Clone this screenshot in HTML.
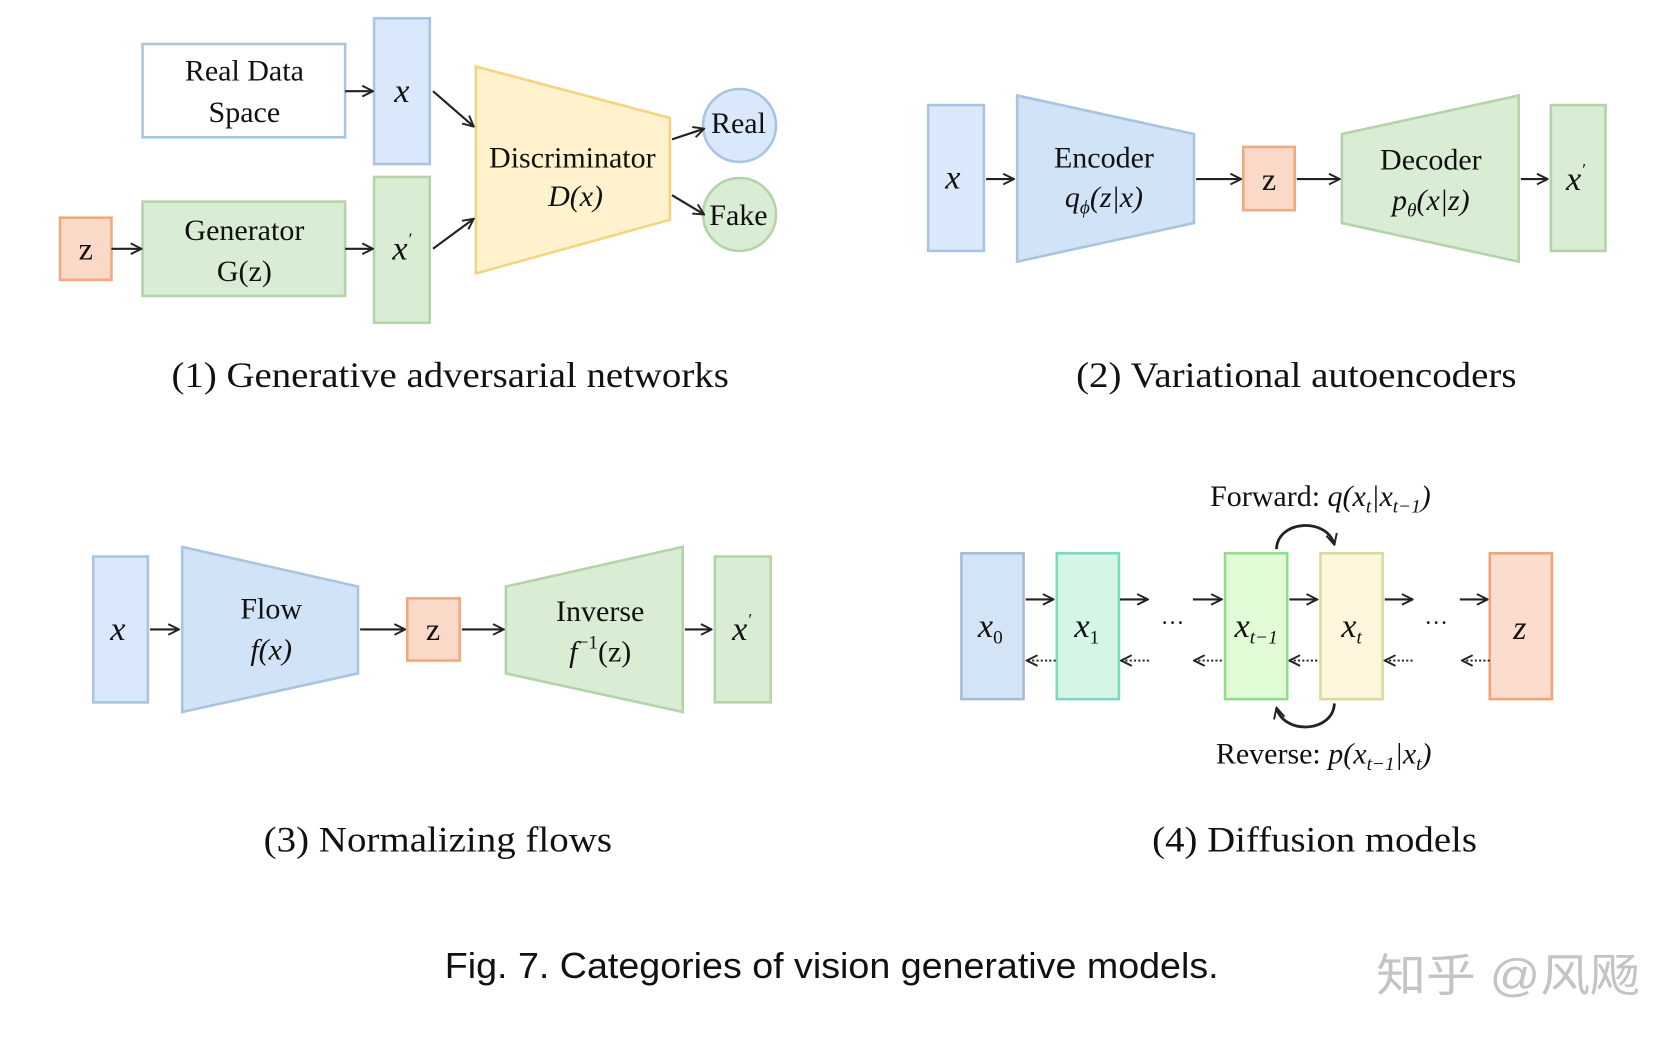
<!DOCTYPE html>
<html><head><meta charset="utf-8"><style>
html,body{margin:0;padding:0;background:#fff;}
svg{display:block;}
text{font-family:"Liberation Serif",serif;fill:#111;}
.i{font-style:italic;}
</style></head><body>
<svg width="1672" height="1038" viewBox="0 0 1560 968" preserveAspectRatio="none" xmlns="http://www.w3.org/2000/svg">
<defs>
<marker id="a" viewBox="0 0 12 12" refX="11" refY="6" markerWidth="12" markerHeight="12" markerUnits="userSpaceOnUse" orient="auto">
<path d="M1,1 L11,6 L1,11" fill="none" stroke="#222" stroke-width="1.8"/>
</marker>
</defs>
<rect width="1560" height="968" fill="#fff"/>
<g stroke-width="2.4">
<rect x="133" y="41" width="189" height="87" fill="#fff" stroke="#a9c4e0"/>
<rect x="349" y="17" width="52" height="136" fill="#dae8fc" stroke="#a9c4e0"/>
<rect x="349" y="165" width="52" height="136" fill="#d9ecd4" stroke="#b5d3a8"/>
<rect x="56" y="203" width="48" height="58" fill="#fad9c8" stroke="#f0a97f"/>
<rect x="133" y="188" width="189" height="88" fill="#d9ecd4" stroke="#b5d3a8"/>
<polygon points="444,62 625,110 625,205 444,255" fill="#fff2cc" stroke="#f5d47f"/>
<circle cx="690" cy="117" r="34" fill="#dae8fc" stroke="#a9c4e0"/>
<circle cx="690" cy="200" r="34" fill="#d9ecd4" stroke="#b5d3a8"/>
<rect x="866" y="98" width="52" height="136" fill="#dae8fc" stroke="#a9c4e0"/>
<polygon points="949,89 1114,125 1114,208 949,244" fill="#d0e3f7" stroke="#a9c4e0"/>
<rect x="1160" y="137" width="48" height="59" fill="#fad9c8" stroke="#f0a97f"/>
<polygon points="1252,125 1417,89 1417,244 1252,208" fill="#d9ecd4" stroke="#b5d3a8"/>
<rect x="1447" y="98" width="51" height="136" fill="#d9ecd4" stroke="#b5d3a8"/>
<rect x="87" y="519" width="51" height="136" fill="#dae8fc" stroke="#a9c4e0"/>
<polygon points="170,510 334,547 334,628 170,664" fill="#d0e3f7" stroke="#a9c4e0"/>
<rect x="380" y="558" width="49" height="58" fill="#fad9c8" stroke="#f0a97f"/>
<polygon points="472,547 637,510 637,664 472,628" fill="#d9ecd4" stroke="#b5d3a8"/>
<rect x="667" y="519" width="52" height="136" fill="#d9ecd4" stroke="#b5d3a8"/>
<rect x="897" y="516" width="58" height="136" fill="#d3e4f7" stroke="#a6bcd6"/>
<rect x="986" y="516" width="58" height="136" fill="#d5f5e6" stroke="#7dd9c0"/>
<rect x="1143" y="516" width="58" height="136" fill="#e2fbd7" stroke="#93dd8a"/>
<rect x="1232" y="516" width="58" height="136" fill="#fdf6dd" stroke="#d7dc9a"/>
<rect x="1390" y="516" width="58" height="136" fill="#fcdccc" stroke="#f0a47a"/>
</g>
<g stroke="#222" stroke-width="2" fill="none" marker-end="url(#a)">
<path d="M322,85 H348"/><path d="M404,85 L442,118"/><path d="M404,232 L442,204"/>
<path d="M104,232 H132"/><path d="M322,232 H348"/>
<path d="M627,130 L657,120"/><path d="M627,182 L657,200"/>
<path d="M920,167 H946"/><path d="M1116,167 H1158"/><path d="M1210,167 H1250"/><path d="M1419,167 H1444"/>
<path d="M140,587 H167"/><path d="M336,587 H378"/><path d="M431,587 H470"/><path d="M639,587 H664"/>
<path d="M957,559 H983"/><path d="M1045,559 H1071"/><path d="M1113,559 H1140"/><path d="M1203,559 H1229"/><path d="M1292,559 H1318"/><path d="M1362,559 H1388"/>
</g>
<g stroke="#222" stroke-width="1.8" fill="none" stroke-dasharray="2,2" marker-end="url(#a)">
<path d="M985,616 H958"/><path d="M1072,616 H1046"/><path d="M1140,616 H1114"/><path d="M1229,616 H1203"/><path d="M1318,616 H1292"/><path d="M1390,616 H1364"/>
</g>
<g stroke="#222" stroke-width="2.6" fill="none" marker-end="url(#a)">
<path d="M1191,512 C1192,485 1238,482 1245,508"/>
<path d="M1245,656 C1244,683 1198,686 1191,660"/>
</g>
<g font-size="28" text-anchor="middle">
<text x="228" y="75">Real Data</text><text x="228" y="114">Space</text>
<text x="375" y="95" class="i" font-size="32">x</text>
<text x="375" y="242" class="i" font-size="32">x<tspan font-size="16" dy="-14">′</tspan></text>
<text x="80" y="242" font-size="30">z</text>
<text x="228" y="224">Generator</text><text x="228" y="262">G(z)</text>
<text x="534" y="156">Discriminator</text><text x="537" y="192" class="i">D(x)</text>
<text x="689" y="124">Real</text><text x="689" y="210">Fake</text>
<text x="889" y="176" class="i" font-size="32">x</text>
<text x="1030" y="156">Encoder</text>
<text x="1030" y="193" class="i">q<tspan font-size="18" dy="6">ϕ</tspan><tspan dy="-6">(z|x)</tspan></text>
<text x="1184" y="177" font-size="30">z</text>
<text x="1335" y="158">Decoder</text>
<text x="1335" y="196" class="i">p<tspan font-size="18" dy="6">θ</tspan><tspan dy="-6">(x|z)</tspan></text>
<text x="1470" y="177" class="i" font-size="32">x<tspan font-size="16" dy="-14">′</tspan></text>
<text x="110" y="597" class="i" font-size="32">x</text>
<text x="253" y="577">Flow</text><text x="253" y="615" class="i">f(x)</text>
<text x="404" y="597" font-size="30">z</text>
<text x="560" y="579">Inverse</text>
<text x="560" y="617"><tspan class="i">f</tspan><tspan font-size="18" dy="-12">−1</tspan><tspan dy="12">(z)</tspan></text>
<text x="692" y="597" class="i" font-size="32">x<tspan font-size="16" dy="-14">′</tspan></text>
<text x="924" y="594" class="i" font-size="32">x<tspan font-size="18" dy="6" font-style="normal">0</tspan></text>
<text x="1014" y="594" class="i" font-size="32">x<tspan font-size="18" dy="6" font-style="normal">1</tspan></text>
<text x="1172" y="594" class="i" font-size="32">x<tspan font-size="18" dy="6">t−1</tspan></text>
<text x="1261" y="594" class="i" font-size="32">x<tspan font-size="18" dy="6">t</tspan></text>
<text x="1418" y="596" class="i" font-size="32">z</text>
<text x="1094" y="588" font-size="22">···</text>
<text x="1340" y="588" font-size="22">···</text>
<text x="1232" y="472">Forward: <tspan class="i">q(x<tspan font-size="18" dy="6">t</tspan><tspan dy="-6">|x</tspan><tspan font-size="18" dy="6">t−1</tspan><tspan dy="-6">)</tspan></tspan></text>
<text x="1235" y="712">Reverse: <tspan class="i">p(x<tspan font-size="18" dy="6">t−1</tspan><tspan dy="-6">|x</tspan><tspan font-size="18" dy="6">t</tspan><tspan dy="-6">)</tspan></tspan></text>
</g>
<g font-size="34">
<text x="160" y="361" textLength="520" lengthAdjust="spacingAndGlyphs">(1) Generative adversarial networks</text>
<text x="1004" y="361" textLength="411" lengthAdjust="spacingAndGlyphs">(2) Variational autoencoders</text>
<text x="246" y="794" textLength="325" lengthAdjust="spacingAndGlyphs">(3) Normalizing flows</text>
<text x="1075" y="794" textLength="303" lengthAdjust="spacingAndGlyphs">(4) Diffusion models</text>
</g>
<text x="415" y="912" font-size="34" style="font-family:'Liberation Sans',sans-serif" textLength="722" lengthAdjust="spacingAndGlyphs">Fig. 7.  Categories of vision generative models.</text>
<text x="1284" y="924" font-size="42" style="font-family:'Liberation Sans','Noto Sans CJK SC',sans-serif;fill:#c4c4c4" textLength="246" lengthAdjust="spacingAndGlyphs">知乎 @风飏</text>
</svg>
</body></html>
